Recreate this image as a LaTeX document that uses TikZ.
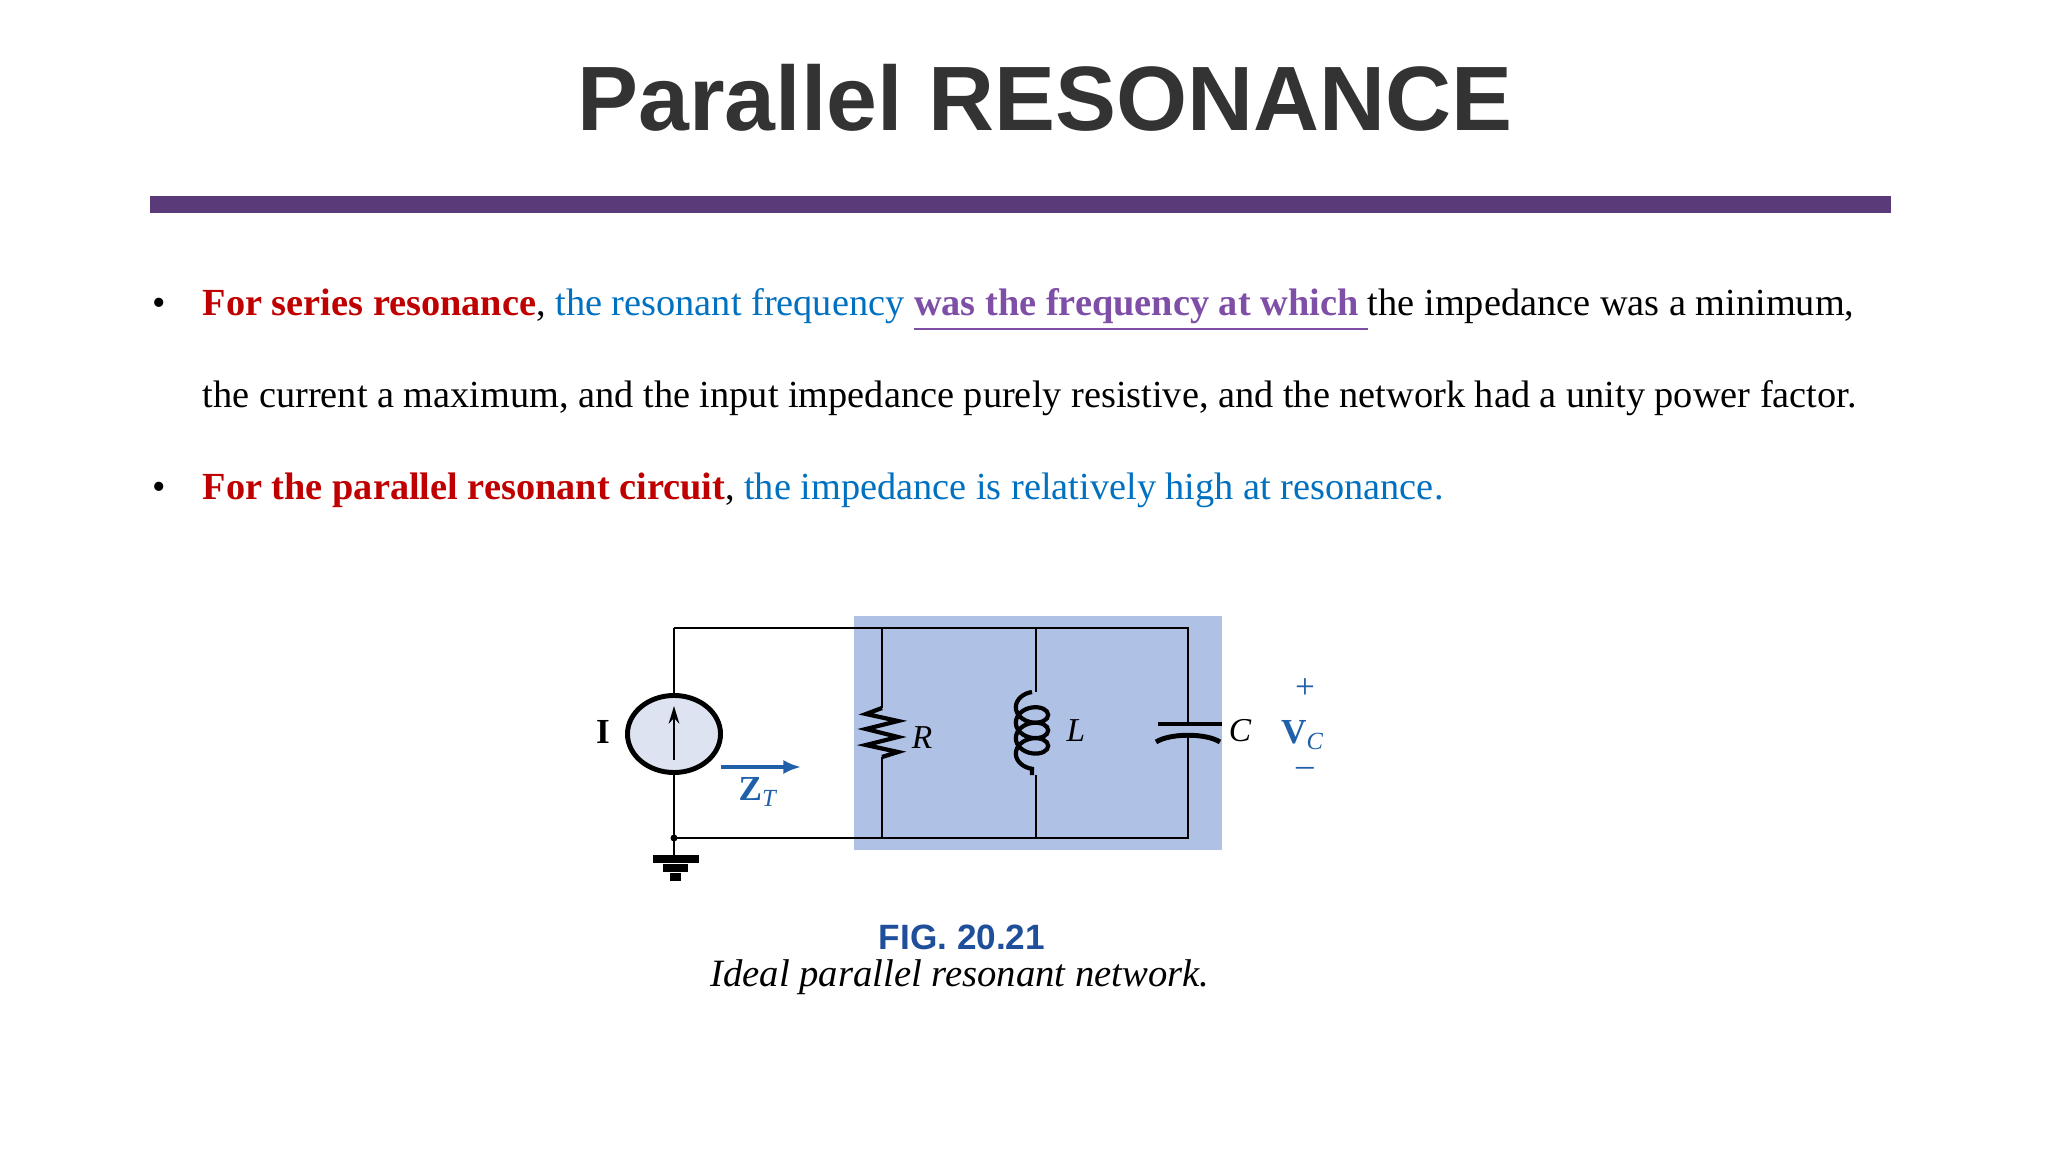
\documentclass[tikz,border=0pt]{standalone}
\usepackage{fontspec}
\setmainfont{Liberation Serif}
\newfontfamily\arial{Liberation Sans}
\usetikzlibrary{decorations.pathmorphing,arrows.meta,shapes.geometric}
\definecolor{ttl}{HTML}{333333}
\definecolor{barc}{HTML}{5B3A7A}
\definecolor{redc}{HTML}{C00000}
\definecolor{bluec}{HTML}{0070C0}
\definecolor{purc}{HTML}{7F4FA8}
\definecolor{boxblue}{HTML}{AFC2E6}
\definecolor{srcfill}{HTML}{DDE3F0}
\definecolor{figc}{HTML}{1F4E9A}
\definecolor{lblc}{HTML}{2060A8}
\tikzset{
  wire/.style={draw=black, line width=0.8pt},
  body/.style={anchor=base west, inner sep=0pt, font=\fontsize{10.9}{13}\selectfont},
  lab/.style={inner sep=0pt, font=\fontsize{9.5}{11}\selectfont\itshape},
}
\begin{document}
\begin{tikzpicture}[x=0.01cm,y=-0.01cm]
\useasboundingbox (0,0) rectangle (2048,1152);
\fill[white] (0,0) rectangle (2048,1152);
% title
\node (title) at (1045,98) {\arial\bfseries\fontsize{26}{30}\selectfont\color{ttl}Parallel RESONANCE};
\fill[barc] (150,196) rectangle (1891,213);
% bullets
\node[body] (b1) at (152,316) {\textbullet};
\node[body] (l1) at (202,316) {\textcolor{redc}{\bfseries For series resonance}, \textcolor{bluec}{the resonant frequency} \textcolor{purc}{\bfseries\underline{was the frequency at which }}the impedance was a minimum,};
\node[body] (l2) at (202,408) {the current a maximum, and the input impedance purely resistive, and the network had a unity power factor.};
\node[body] (b2) at (152,500) {\textbullet};
\node[body] (l3) at (202,500) {\textcolor{redc}{\bfseries For the parallel resonant circuit}, \textcolor{bluec}{the impedance is relatively high at resonance.}};
% shaded box
\fill[boxblue] (854,616) rectangle (1222,850);
% circuit coordinates
\coordinate (tl) at (674,628);
\coordinate (bl) at (674,838);
\coordinate (rt) at (882,628);
\coordinate (rb) at (882,838);
\coordinate (lt) at (1036,628);
\coordinate (lb) at (1036,838);
\coordinate (ct) at (1188,628);
\coordinate (cb) at (1188,838);
\draw[wire] (tl) -- (ct) -- (1188,724);
\draw[wire] (bl) -- (cb) -- (1188,733);
% source
\node[draw=black, line width=1.4pt, fill=srcfill, ellipse, minimum width=0.93cm, minimum height=0.77cm, inner sep=0pt] (src) at (674,734) {};
\draw[wire] (tl) -- (src.north);
\draw[wire] (src.south) -- (bl);
\draw[line width=0.8pt,-{Stealth[length=5pt,width=3pt]}] (674,760) -- (674,706);
% resistor
\draw[wire] (rt) -- (882,708);
\draw[wire] (882,757) -- (rb);
\draw[line width=1.2pt, line join=miter] (882,708) -- (866,714) -- (898,721) -- (866,729) -- (898,737) -- (866,745) -- (898,752) -- (882,757);
% inductor
\draw[wire] (lt) -- (1036,692);
\draw[wire] (1036,775) -- (lb);
\draw[line width=1.2pt, decoration={coil, aspect=0.7, segment length=4.4pt, amplitude=4.6pt, mirror}, decorate] (1032,692) -- (1032,775);
% capacitor
\draw[wire, line width=1.4pt] (1158,724) -- (1222,724);
\draw[wire, line width=1.4pt] (1156,742) .. controls (1170,733) and (1206,733) .. (1220,742);
% ground
\fill (bl) circle (0.035cm);
\draw[wire] (bl) -- (674,858);
\draw[line width=2.3pt] (653,859) -- (699,859);
\draw[line width=2.3pt] (663,868) -- (688,868);
\draw[line width=2.3pt] (670,877) -- (681,877);
% labels
\node[lab] (lR) at (922,738) {R};
\node[lab] (lL) at (1076,731) {L};
\node[lab] (lC) at (1240,731) {C};
\node[inner sep=0pt, font=\fontsize{10}{12}\selectfont\bfseries] (lI) at (603,732) {I};
\node[inner sep=0pt, text=lblc, font=\fontsize{10}{12}\selectfont] (lVc) at (1303,735) {\textbf{V}\textsubscript{\itshape C}};
\node[inner sep=0pt, text=lblc, font=\fontsize{10}{12}\selectfont] (lp) at (1305,689) {+};
\node[inner sep=0pt, text=lblc, font=\fontsize{10}{12}\selectfont] (lm) at (1305,772) {\textendash};
\coordinate (za) at (721,767);
\coordinate (zb) at (801,767);
\draw[draw=lblc, line width=1pt, -{Latex[length=5pt,width=4pt]}] (za) -- (zb);
\node[inner sep=0pt, text=lblc, font=\fontsize{10}{12}\selectfont] (lZ) at (758,792) {\textbf{Z}\textsubscript{\itshape T}};
% caption
\node[inner sep=0pt, text=figc, font=\arial\bfseries\fontsize{10}{12}\selectfont] (fig) at (962,937) {FIG.\ 20.21};
\node[inner sep=0pt, font=\fontsize{11}{13}\selectfont\itshape] (cap) at (960,977) {Ideal parallel resonant network.};
\end{tikzpicture}
\end{document}
